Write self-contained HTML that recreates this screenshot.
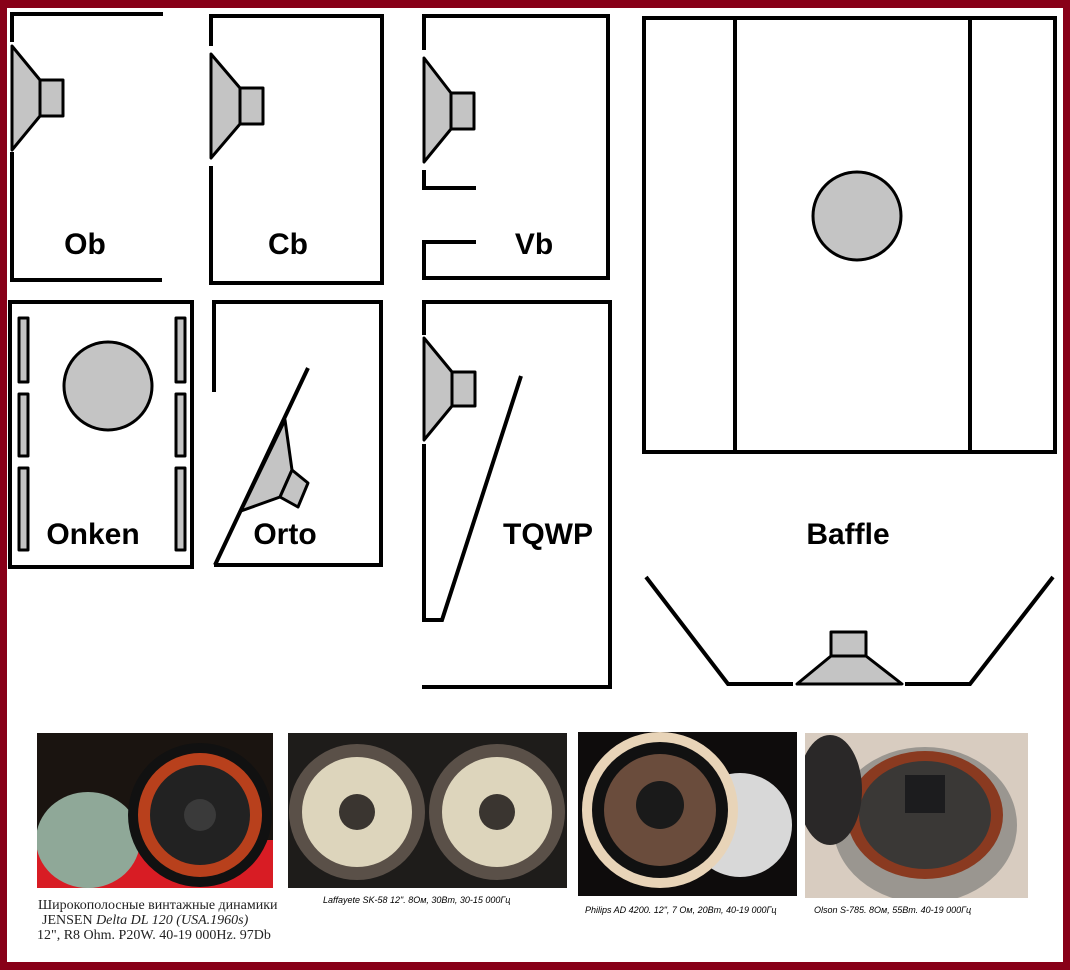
<!DOCTYPE html>
<html><head><meta charset="utf-8"><style>
html,body{margin:0;padding:0;background:#fff}
svg{display:block}
.l{font-family:"Liberation Sans",sans-serif;font-weight:bold;font-size:30px;fill:#000;text-anchor:middle}
.c{font-family:"Liberation Sans",sans-serif;font-style:italic;font-size:9px;fill:#000}
.s{font-family:"Liberation Serif","Noto Serif CJK SC",serif;font-size:14px;fill:#222}
</style></head><body>
<svg width="1070" height="970" viewBox="0 0 1070 970" xmlns="http://www.w3.org/2000/svg">
<defs>
<clipPath id="p1"><rect x="37" y="733" width="236" height="155"/></clipPath>
<clipPath id="p2"><rect x="288" y="733" width="279" height="155"/></clipPath>
<clipPath id="p3"><rect x="578" y="732" width="219" height="164"/></clipPath>
<clipPath id="p4"><rect x="805" y="733" width="223" height="165"/></clipPath>
</defs>
<rect x="0" y="0" width="1070" height="970" fill="#880018"/>
<rect x="7" y="8" width="1056" height="954" fill="#fff"/>
<g stroke="#000" stroke-width="4" fill="none">
<polyline points="163,14 12,14 12,42"/><polyline points="12,152 12,280 162,280"/>
<polyline points="211,46 211,16 382,16 382,283 211,283 211,166"/>
<polyline points="424,50 424,16 608,16 608,278 424,278 424,242 476,242"/>
<polyline points="424,170 424,188 476,188"/>
<rect x="644" y="18" width="411" height="434"/>
<line x1="735" y1="18" x2="735" y2="452"/><line x1="970" y1="18" x2="970" y2="452"/>
<polyline points="646,577 728,684 793,684"/><polyline points="905,684 970,684 1053,577"/>
<rect x="10" y="302" width="182" height="265"/>
<polyline points="214,392 214,302 381,302 381,565 214,565"/>
<line x1="308" y1="368" x2="215" y2="565"/>
<polyline points="424,335 424,302 610,302 610,687 422,687"/>
<polyline points="424,444 424,620 442,620 521,376"/>
</g>
<g stroke="#000" stroke-width="3" fill="#c4c4c4" stroke-linejoin="round">
<polygon points="12,46 40,80 40,116 12,150"/><rect x="40" y="80" width="23" height="36"/>
<polygon points="211,54 240,88 240,124 211,158"/><rect x="240" y="88" width="23" height="36"/>
<polygon points="424,58 451,93 451,129 424,162"/><rect x="451" y="93" width="23" height="36"/>
<polygon points="424,338 452,372 452,406 424,440"/><rect x="452" y="372" width="23" height="34"/>
<circle cx="857" cy="216" r="44"/>
<circle cx="108" cy="386" r="44"/>
<rect x="831" y="632" width="35" height="24"/><polygon points="831,656 866,656 902,684 797,684"/>
<rect x="19" y="318" width="9" height="64"/><rect x="19" y="394" width="9" height="62"/><rect x="19" y="468" width="9" height="82"/>
<rect x="176" y="318" width="9" height="64"/><rect x="176" y="394" width="9" height="62"/><rect x="176" y="468" width="9" height="82"/>
<polygon points="241,511 285,420 292,470 280,497"/>
<polygon points="292,470 308,483 298,507 280,497"/>
</g>
<text class="l" x="85" y="254">Ob</text>
<text class="l" x="288" y="254">Cb</text>
<text class="l" x="534" y="254">Vb</text>
<text class="l" x="93" y="544">Onken</text>
<text class="l" x="285" y="544">Orto</text>
<text class="l" x="548" y="544">TQWP</text>
<text class="l" x="848" y="544">Baffle</text>
<g clip-path="url(#p1)">
<rect x="37" y="733" width="236" height="155" fill="#1a1410"/>
<rect x="37" y="840" width="236" height="48" fill="#d81c24"/>
<ellipse cx="88" cy="840" rx="52" ry="48" fill="#8fa898"/>
<circle cx="200" cy="815" r="72" fill="#111"/><circle cx="200" cy="815" r="62" fill="#b8401c"/><circle cx="200" cy="815" r="50" fill="#222"/><circle cx="200" cy="815" r="16" fill="#3a3a3a"/>
</g>
<g clip-path="url(#p2)">
<rect x="288" y="733" width="279" height="155" fill="#1e1c1a"/>
<circle cx="357" cy="812" r="68" fill="#5a5048"/><circle cx="357" cy="812" r="55" fill="#ddd5bc"/><circle cx="357" cy="812" r="18" fill="#3a3530"/>
<circle cx="497" cy="812" r="68" fill="#5a5048"/><circle cx="497" cy="812" r="55" fill="#ddd5bc"/><circle cx="497" cy="812" r="18" fill="#3a3530"/>
</g>
<g clip-path="url(#p3)">
<rect x="578" y="732" width="219" height="164" fill="#0e0c0c"/>
<circle cx="740" cy="825" r="52" fill="#d8d8d8"/>
<circle cx="660" cy="810" r="78" fill="#e8d4b8"/><circle cx="660" cy="810" r="68" fill="#111"/><circle cx="660" cy="810" r="56" fill="#6a4c3c"/><circle cx="660" cy="805" r="24" fill="#1a1a1a"/>
</g>
<g clip-path="url(#p4)">
<rect x="805" y="733" width="223" height="165" fill="#d8ccc0"/>
<ellipse cx="925" cy="825" rx="92" ry="78" fill="#9a9690"/><ellipse cx="925" cy="815" rx="78" ry="64" fill="#8a3a20"/><ellipse cx="925" cy="815" rx="66" ry="54" fill="#3a3836"/><rect x="905" y="775" width="40" height="38" fill="#1c1c1e"/>
<ellipse cx="830" cy="790" rx="32" ry="55" fill="#2a2828"/>
</g>
<text class="s" x="38" y="909">Широкополосные винтажные динамики</text>
<text class="s" x="42" y="924">JENSEN <tspan font-style="italic">Delta DL 120 (USA.1960s)</tspan></text>
<text class="s" x="37" y="939">12", R8 Ohm. P20W. 40-19 000Hz. 97Db</text>
<text class="c" x="323" y="903">Laffayete SK-58   12". 8Ом, 30Вт, 30-15 000Гц</text>
<text class="c" x="585" y="913">Philips AD 4200. 12", 7 Ом, 20Вт, 40-19 000Гц</text>
<text class="c" x="814" y="913">Olson S-785. 8Ом, 55Вт. 40-19 000Гц</text>
</svg>
</body></html>
